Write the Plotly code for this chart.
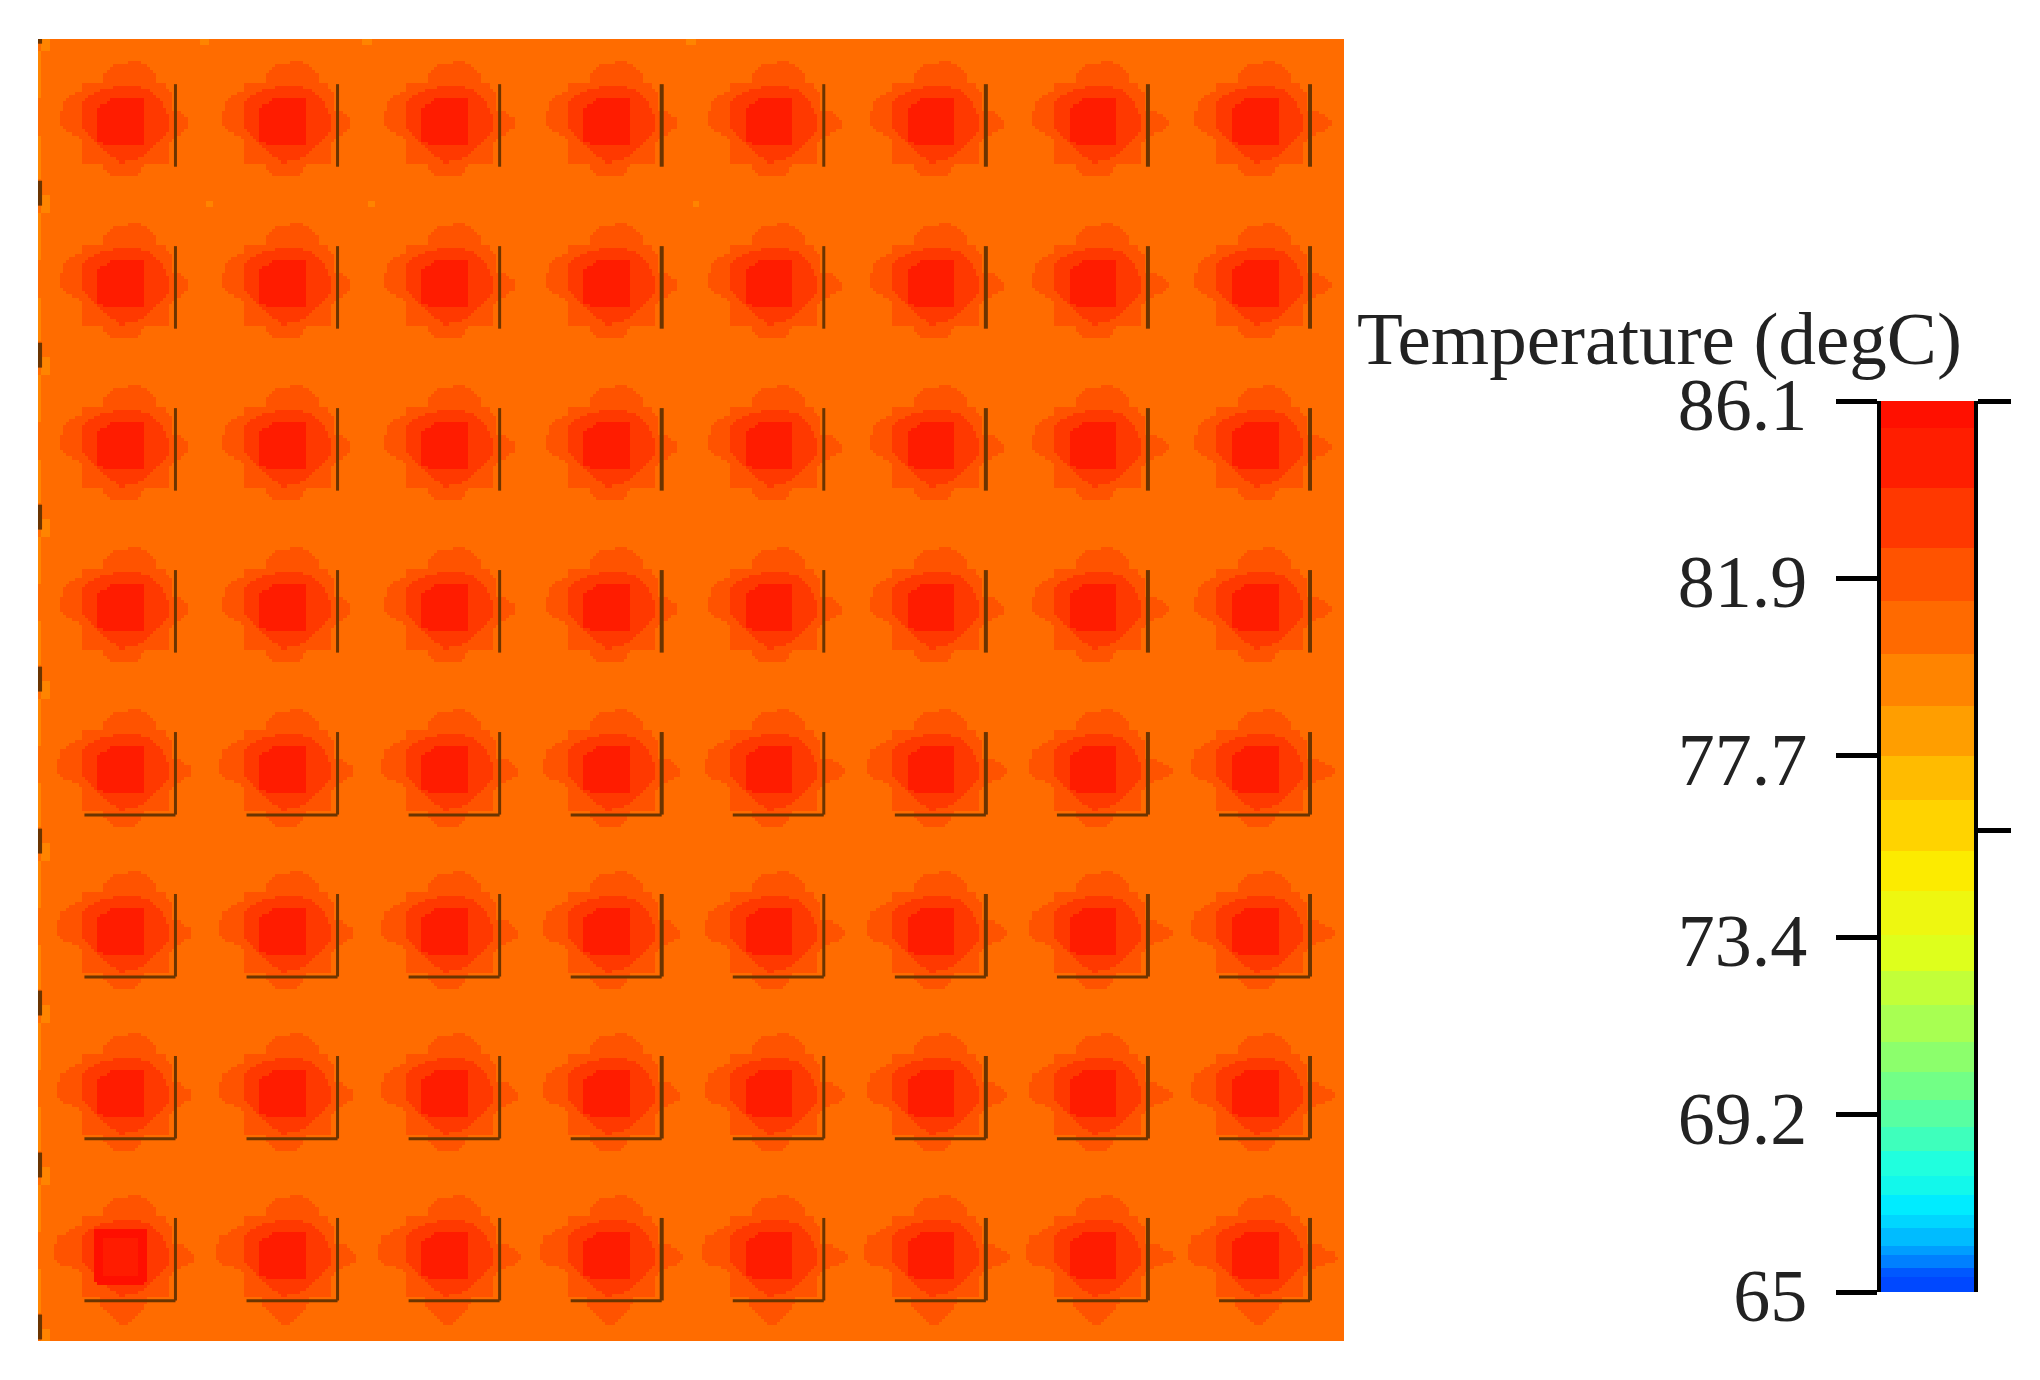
import numpy as np
import plotly.graph_objects as go

# colour bar bands, top to bottom
BAND_EDGES = [86.1, 85.45, 84.04, 82.63, 81.36, 80.12, 78.87, 77.69, 76.65, 75.45, 74.49,
              73.46, 72.59, 71.8, 70.93, 70.2, 69.55, 68.9, 68.33, 67.75, 67.3, 66.82,
              66.51, 66.08, 65.87, 65.57, 65.35, 65.0]
BAND_COLORS = ["#ff0000", "#ff2000", "#ff3c00", "#ff5000", "#ff6a00", "#ff8400", "#ff9e00",
               "#ffb800", "#ffd700", "#ffee00", "#f8ff00", "#dcff20", "#c4ff38", "#a8ff50",
               "#8cff6c", "#70ff88", "#58ffa0", "#40ffbc", "#24ffd8", "#00ffff", "#00f0ff",
               "#00d8ff", "#00bcff", "#00a0ff", "#0080ff", "#0060ff", "#0030ff"]
TICK_VALUES = [86.1, 81.9, 77.7, 73.4, 69.2, 65]
TICK_LABELS = ["86.1", "81.9", "77.7", "73.4", "69.2", "65"]
RIGHT_TICKS = [86.1, 75.94]
BAR_TITLE = "Temperature (degC)"

# temperature of each contour level in the map
LEVEL_TEMPS = {".": 80.7, "o": 79.5, "1": 82.0, "2": 83.3, "3": 84.8, "4": 85.8}

# temperature pattern round one chip
STAMP_UPPER = [
    "",
    "",
    ".........................1111",
    "....................11111111111",
    "...................1111111111111",
    "..................111111111111111",
    ".................11111111111111111",
    ".................11111111111111111",
    ".................11111111111111111",
    "..........111111111111111111111111111",
    "..........111111111122222222211111111",
    "..........1111112222222222222222111111",
    "........1111112222222222222222222111111",
    "......111111222222222222222222222211111",
    ".....1111112222222233333333333222221111",
    "....11111122222222333333333333222222111",
    "....11111122222233333333333333222222111",
    "....11111122222333333333333333222222211",
    "...111111122222333333333333333222222211111",
    "...1111111222223333333333333332222222211111",
    "...11111112222233333333333333322222222111111",
    "...11111112222233333333333333322222222111111",
    "...11111112222233333333333333322222222111111",
    "....1111112222233333333333333322222222111111",
    ".....11111122223333333333333332222222211111",
    ".......11111222333333333333333222222211111",
    ".........1111223333333333333332222221111",
    "..........11112333333333333333222221111",
    "..........1111122333333333333322221111",
    "..........1111112222222222222222211111",
    "..........1111111222222222222222111111",
    "..........1111111122222222222221111111",
    "..........1111111112222222222211111111",
    "..........1111111111122222221111111111",
    "..........1111111111112211111111111111",
    ".................1111111111111",
    ".................111111111111",
    "..................11111111111",
    "...................111111111",
]
LOWER_TAIL = [
    ".................1111111111111",
    ".................111111111111",
    "..................11111111111",
    "...................111111111",
    "....................1111111",
]
BOTTOM_TAIL = [
    "................111111111111111",
    "................111111111111111",
    "................11111111111111",
    ".................1111111111111",
    "..................11111111111",
    "...................111111111",
    "....................1111111",
    ".....................11111",
    "......................111",
]
# the hottest chip, bottom left
HOT_RING = [
    "44444444444444444",
    "44444444444444444",
    "44444444444444444",
    "44433333333333444",
    "44433333333333444",
    "44433333333333444",
    "44433333333333444",
    "44433333333333444",
    "44433333333333444",
    "44433333333333444",
    "44433333333333444",
    "44433333333333444",
    "44433333333333444",
    "44433333333333444",
    "44433333333333444",
    "44444444444444444",
    "44444444444444444",
    ".444444444444444.",
]
# how far the side lobes reach beyond the pattern, by grid row and column
ROW_LOBE = [0, 0, 0, 0, 1, 1, 1, 2]
COL_LOBE = [0, 0, 1, 1, 2, 2, 3, 3]
LEFT_LOBE = [0, 0, 0, 0, 1, 1, 1, 2]
LOBE_TAPER = {18: 0.3, 19: 0.5, 20: 0.7, 21: 0.9, 22: 1.0, 23: 0.8, 24: 0.5}
LINE_WIDTHS = [3, 3, 3, 4, 3, 4, 4, 4]
SPOT_COLS = [54, 106, 210]
TOP_SPOT_COLS = [52, 53, 54, 104, 105, 106, 208, 209, 210]

FIELD_W, FIELD_H = 419, 418
PITCH = 52
STAMP_X0, STAMP_Y0 = 4, 5


def put(field, rows, row0, col0):
    for r, line in enumerate(rows):
        for c, ch in enumerate(line):
            if ch != "." and row0 + r < FIELD_H and col0 + c < FIELD_W:
                field[row0 + r, col0 + c] = LEVEL_TEMPS[ch]


def chip_rows(i, j):
    tail = LOWER_TAIL if i < 7 else BOTTOM_TAIL
    stamp = STAMP_UPPER if i < 4 else STAMP_UPPER[:35] + tail
    rows = []
    for r, s in enumerate(stamp):
        if r in LOBE_TAPER:
            s = s + "1" * round((ROW_LOBE[i] + COL_LOBE[j]) * LOBE_TAPER[r])
        if 15 <= r <= 24 and LEFT_LOBE[i]:
            n = len(s) - len(s.lstrip("."))
            s = "." * (n - LEFT_LOBE[i]) + "1" * LEFT_LOBE[i] + s[n:]
        rows.append(s)
    return rows


field = np.full((FIELD_H, FIELD_W), LEVEL_TEMPS["."])
for i in range(8):
    for j in range(8):
        put(field, chip_rows(i, j), STAMP_Y0 + i * PITCH, STAMP_X0 + j * PITCH)
put(field, HOT_RING, STAMP_Y0 + 7 * PITCH + 13, STAMP_X0 + 14)

# small cooler spots and the broken strip on the left edge
for c in TOP_SPOT_COLS:
    field[0:2, c] = LEVEL_TEMPS["o"]
for c in SPOT_COLS:
    field[52:54, c:c + 2] = LEVEL_TEMPS["o"]
for k in range(-1, 9):
    d = -7 + k * PITCH
    for r in list(range(d + 11, d + 26)) + list(range(d + 38, d + 52)):
        if 0 <= r < FIELD_H:
            field[r, 0] = LEVEL_TEMPS["o"]
    if k >= 0:
        field[max(d + 5, 0):max(d + 11, 0), 1:4] = LEVEL_TEMPS["o"]

# hard edged colour scale shared by map and bar
zmin, zmax = BAND_EDGES[-1], BAND_EDGES[0]
colorscale = []
for n, color in enumerate(BAND_COLORS):
    lo = (BAND_EDGES[n + 1] - zmin) / (zmax - zmin)
    hi = (BAND_EDGES[n] - zmin) / (zmax - zmin)
    colorscale += [[lo, color], [hi, color]]
colorscale.sort(key=lambda s: s[0])

fig = go.Figure()
fig.add_trace(go.Heatmap(z=field, zmin=zmin, zmax=zmax, colorscale=colorscale,
                         showscale=False, hoverinfo="skip", xaxis="x", yaxis="y"))

# chip outlines
for j in range(8):
    xs, ys = [], []
    hx, hy = [], []
    x_line = j * PITCH + STAMP_X0 + 39.6
    for i in range(8):
        y0 = i * PITCH + STAMP_Y0
        xs += [x_line, x_line, None]
        ys += [y0 + 9, y0 + 35.5, None]
        if i >= 4:
            hx += [j * PITCH + STAMP_X0 + 10.4, x_line, None]
            hy += [y0 + 35.6, y0 + 35.6, None]
    fig.add_trace(go.Scatter(x=xs, y=ys, mode="lines", hoverinfo="skip", showlegend=False,
                             line=dict(color="#6b3400", width=LINE_WIDTHS[j]),
                             xaxis="x", yaxis="y"))
    fig.add_trace(go.Scatter(x=hx, y=hy, mode="lines", hoverinfo="skip", showlegend=False,
                             line=dict(color="#6b3400", width=3), xaxis="x", yaxis="y"))

# dark dashes on the left edge
dash_x, dash_y = [0, 0, None], [-0.5, 1, None]
for k in range(1, 9):
    d = -7 + k * PITCH
    dash_x += [0, 0, None]
    dash_y += [d, d + 8, None]
fig.add_trace(go.Scatter(x=dash_x, y=dash_y, mode="lines", hoverinfo="skip", showlegend=False,
                         line=dict(color="#6b3400", width=5), xaxis="x", yaxis="y"))

# colour bar as its own little heatmap
band_mid = [[(BAND_EDGES[n] + BAND_EDGES[n + 1]) / 2] for n in range(len(BAND_COLORS))]
fig.add_trace(go.Heatmap(x=[0, 1], y=BAND_EDGES, z=band_mid, zmin=zmin, zmax=zmax,
                         colorscale=colorscale, showscale=False, hoverinfo="skip",
                         xaxis="x2", yaxis="y2"))
fig.add_trace(go.Scatter(x=[0, 0], y=RIGHT_TICKS, mode="lines", opacity=0, hoverinfo="skip",
                         showlegend=False, xaxis="x2", yaxis="y3"))

# the page has an 8px body margin
W, H = 2024, 1364
OFF = 8


def fx(px):
    return (px - OFF) / W


def fy(px):
    return 1 - (px - OFF) / H


fig.update_layout(
    width=W, height=H, margin=dict(l=0, r=0, t=0, b=0), showlegend=False,
    paper_bgcolor="white", plot_bgcolor="white",
    font=dict(family="Liberation Serif", size=74, color="#222222"),
    xaxis=dict(domain=[fx(38), fx(1344)], range=[-0.5, FIELD_W - 0.5], visible=False),
    yaxis=dict(domain=[fy(1341), fy(39)], range=[FIELD_H - 0.5, -0.5], visible=False),
    xaxis2=dict(domain=[fx(1881), fx(1974)], range=[0, 1], visible=False, anchor="y2"),
    yaxis2=dict(domain=[fy(1292), fy(401)], range=[zmin, zmax], anchor="x2", side="left",
                tickmode="array", tickvals=TICK_VALUES, ticktext=TICK_LABELS, ticks="outside",
                ticklen=41, tickwidth=5, tickcolor="black", showline=True, linecolor="black",
                linewidth=4, showgrid=False, zeroline=False, ticklabelstandoff=14,
                ticklabelshift=3, automargin=False),
    yaxis3=dict(domain=[fy(1292), fy(401)], range=[zmin, zmax], anchor="x2", side="right",
                overlaying="y2", tickmode="array", tickvals=RIGHT_TICKS, showticklabels=False,
                ticks="outside", ticklen=33, tickwidth=5, tickcolor="black", showline=True,
                linecolor="black", linewidth=4, showgrid=False, zeroline=False,
                automargin=False),
    annotations=[dict(text=BAR_TITLE, xref="paper", yref="paper", x=fx(1355), y=fy(338),
                      xanchor="left", yanchor="middle", showarrow=False,
                      font=dict(family="Liberation Serif", size=75, color="#222222"))],
)

fig.write_html("out.html")
